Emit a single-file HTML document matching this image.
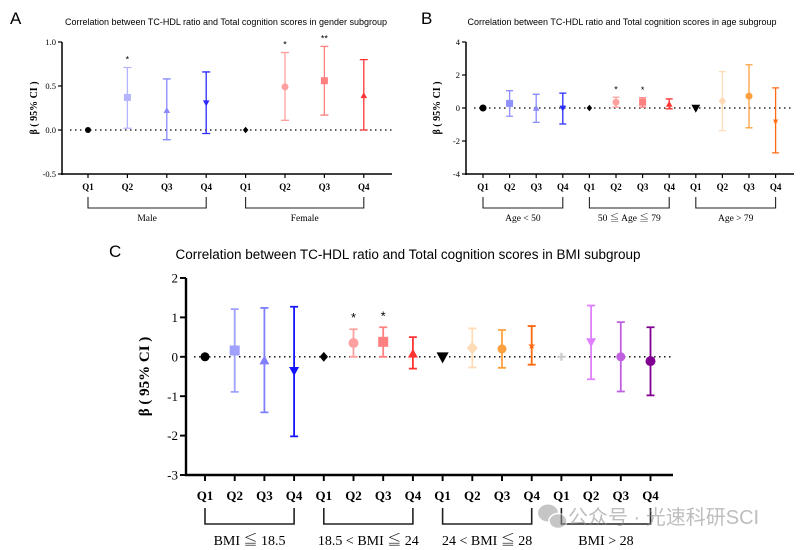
<!DOCTYPE html>
<html><head><meta charset="utf-8">
<style>
body{margin:0;background:#fff;}
svg{display:block;font-family:"Liberation Serif","Noto Serif CJK SC",serif;}
.sans{font-family:"Liberation Sans","Noto Sans CJK SC",sans-serif;}
</style></head>
<body>
<svg id="chart" width="807" height="550" viewBox="0 0 807 550" xmlns="http://www.w3.org/2000/svg">
  <text class="sans" x="10" y="24" font-size="17">A</text>
  <text class="sans" x="226" y="25" font-size="9" text-anchor="middle">Correlation between TC-HDL ratio and Total cognition scores in gender subgroup</text>
  <text class="sans" x="421" y="24" font-size="17">B</text>
  <text class="sans" x="622" y="25" font-size="9" text-anchor="middle">Correlation between TC-HDL ratio and Total cognition scores in age subgroup</text>
  <text class="sans" x="109" y="257" font-size="17">C</text>
  <text class="sans" x="408" y="259" font-size="13.5" text-anchor="middle">Correlation between TC-HDL ratio and Total cognition scores in BMI subgroup</text>
  <g id="pa"></g>
  <g id="pb"></g>
  <g id="pc"></g>
  <g opacity="0.55">
    <ellipse cx="548" cy="513" rx="10" ry="8.5" fill="#999"/>
    <ellipse cx="558" cy="521" rx="9" ry="7.5" fill="#999" stroke="#fff" stroke-width="1.5"/>
    <text class="sans" x="568" y="524" font-size="20" fill="#888">公众号 · 光速科研SCI</text>
  </g>
</svg>
<script>
// Panel A data
const aCats = ["Q1","Q2","Q3","Q4","Q1","Q2","Q3","Q4"];
const aBeta = [0,0.37,0.22,0.31,0,0.49,0.56,0.39];
const aLow  = [0,0.02,-0.11,-0.04,0,0.11,0.17,0];
const aHigh = [0,0.71,0.58,0.66,0,0.88,0.95,0.80];
const aSig  = ["","*","","","","*","**",""];
const aGroups = ["Male","Female"];
const aTicks = [-0.5,0,0.5,1.0];
const aTickLabels = ["-0.5","0.0","0.5","1.0"];
// Panel B data
const bCats = ["Q1","Q2","Q3","Q4","Q1","Q2","Q3","Q4","Q1","Q2","Q3","Q4"];
const bBeta = [0,0.28,-0.02,0.0,0,0.35,0.35,0.22,0,0.42,0.72,-0.77];
const bLow  = [0,-0.5,-0.87,-0.97,0,0.05,0.05,-0.05,0,-1.37,-1.2,-2.72];
const bHigh = [0,1.05,0.83,0.9,0,0.65,0.62,0.55,0,2.2,2.62,1.22];
const bSig  = ["","","","","","*","*","","","","",""];
const bGroups = ["Age < 50","50 ≦ Age ≦ 79","Age > 79"];
const bTicks = [-4,-2,0,2,4];
const bTickLabels = ["-4","-2","0","2","4"];
// Panel C data
const cCats = ["Q1","Q2","Q3","Q4","Q1","Q2","Q3","Q4","Q1","Q2","Q3","Q4","Q1","Q2","Q3","Q4"];
const cBeta = [0,0.16,-0.1,-0.35,0,0.35,0.38,0.07,0,0.22,0.2,0.28,0,0.38,0,-0.11];
const cLow  = [0,-0.89,-1.41,-2.02,0,0,0,-0.3,0,-0.27,-0.28,-0.2,0,-0.57,-0.88,-0.98];
const cHigh = [0,1.21,1.24,1.27,0,0.7,0.75,0.5,0,0.72,0.68,0.78,0,1.3,0.88,0.75];
const cSig  = ["","","","","","*","*","","","","","","","","",""];
const cGroups = ["BMI ≦ 18.5","18.5 < BMI ≦ 24","24 < BMI ≦ 28","BMI > 28"];
const cTicks = [-3,-2,-1,0,1,2];
const cTickLabels = ["-3","-2","-1","0","1","2"];

const NS="http://www.w3.org/2000/svg";
function mk(parent,tag,attrs,txt){const e=document.createElementNS(NS,tag);for(const k in attrs)e.setAttribute(k,attrs[k]);if(txt!==undefined)e.textContent=txt;parent.appendChild(e);return e;}

function marker(g,shape,x,y,s,col){
  let e;
  if(shape==="circle"){e=mk(g,"circle",{cx:x,cy:y,r:s,fill:col});}
  else if(shape==="square"){e=mk(g,"rect",{x:x-s,y:y-s,width:2*s,height:2*s,fill:col});}
  else if(shape==="tri"){e=mk(g,"polygon",{points:`${x},${y-s*1.2} ${x-s*1.1},${y+s*0.8} ${x+s*1.1},${y+s*0.8}`,fill:col});}
  else if(shape==="dtri"){e=mk(g,"polygon",{points:`${x},${y+s*1.2} ${x-s*1.1},${y-s*0.8} ${x+s*1.1},${y-s*0.8}`,fill:col});}
  else if(shape==="diamond"){e=mk(g,"polygon",{points:`${x},${y-s*1.3} ${x+s*1.1},${y} ${x},${y+s*1.3} ${x-s*1.1},${y}`,fill:col});}
  else if(shape==="plus"){e=mk(g,"path",{d:`M${x-s},${y}H${x+s}M${x},${y-s}V${y+s}`,stroke:col,"stroke-width":2.2,fill:"none"});}
  else if(shape==="star"){let p="";for(let i=0;i<10;i++){const r=i%2?s*0.45:s*1.1;const a=-Math.PI/2+i*Math.PI/5;p+=`${x+r*Math.cos(a)},${y+r*Math.sin(a)} `;}e=mk(g,"polygon",{points:p,fill:col});}
  
  
}

function panel(id,o){
  const g=document.getElementById(id);
  const y=v=>o.y0+(v-o.ymin)/(o.ymax-o.ymin)*(o.y1-o.y0);
  const x=i=>o.xs0+i*o.dx;
  const zl=mk(g,"line",{x1:o.ax+8,x2:o.axEnd,y1:y(0),y2:y(0),stroke:"#000","stroke-width":1.3,"stroke-dasharray":"1.5,3.5"});
  
  
  const ya=mk(g,"line",{x1:o.ax,x2:o.ax,y1:y(o.ymax),y2:o.y0+1,stroke:"#000","stroke-width":o.aw});
  
  
  const xa=mk(g,"line",{x1:o.ax-o.aw/2,x2:o.axEnd,y1:o.y0,y2:o.y0,stroke:"#000","stroke-width":o.aw});
  
  
  o.ticks.forEach((t,i)=>{
    mk(g,"line",{x1:o.ax-o.tl,x2:o.ax,y1:y(t),y2:y(t),stroke:"#000","stroke-width":o.aw*0.8});
    const tx=mk(g,"text",{x:o.ax-o.tl-2,y:y(t)+o.fs*0.35,"font-size":o.fs,"text-anchor":"end"},o.tickLabels[i]);
    
    
  });
  const yt=mk(g,"text",{x:0,y:0,"font-size":o.yfs,"font-weight":"bold","text-anchor":"middle",transform:`translate(${o.ytx},${(y(o.ymin)+y(o.ymax))/2}) rotate(-90)`},"β ( 95% CI )");
  
  
  o.cats.forEach((c,i)=>{
    const xi=x(i);
    mk(g,"line",{x1:xi,x2:xi,y1:o.y0,y2:o.y0+o.tl,stroke:"#000","stroke-width":o.aw*0.8});
    const lt=mk(g,"text",{x:xi,y:o.y0+o.qdy,"font-size":o.qfs,"font-weight":"bold","text-anchor":"middle"},c);
    
    
    const col=o.colors[i];
    if(o.high[i]!==o.low[i]){
      const eb=mk(g,"path",{d:`M${xi},${y(o.low[i])}V${y(o.high[i])}M${xi-o.cap},${y(o.low[i])}H${xi+o.cap}M${xi-o.cap},${y(o.high[i])}H${xi+o.cap}`,stroke:col,"stroke-width":o.ew,fill:"none"});
      
      
    }
    marker(g,o.shapes[i],xi,y(o.beta[i]),o.ms[i]||o.msz,col);
    if(o.sig[i]){
      const st=mk(g,"text",{x:xi,y:y(o.high[i])-o.sdy,"font-size":o.sfs,"text-anchor":"middle",class:"sans"},o.sig[i]);
      
      
    }
  });
  o.groups.forEach((gn,k)=>{
    const xa0=x(k*4),xb=x(k*4+3);
    const br=mk(g,"path",{d:`M${xa0},${o.by0}V${o.by1}H${xb}V${o.by0}`,stroke:"#222","stroke-width":o.bw,fill:"none"});
    
    
    const gl=mk(g,"text",{x:(xa0+xb)/2,y:o.gly,"font-size":o.gfs,"text-anchor":"middle"},gn);
    
    
  });
}
const K="#000";
panel("pa",{cats:aCats,beta:aBeta,low:aLow,high:aHigh,sig:aSig,groups:aGroups,ticks:aTicks,tickLabels:aTickLabels,
  ymin:-0.5,ymax:1.0,y0:174,y1:42,ax:62,axEnd:392,xs0:88,dx:39.4,fs:8.5,yfs:10,ytx:37,qfs:9,qdy:16,tl:4,aw:1.5,ew:1.3,cap:4,msz:3,sdy:5,sfs:9,
  colors:[K,"#b4b4ff","#8a8aff","#2a2aff",K,"#ffa0a0","#ff8080","#ff3434"],
  shapes:["circle","square","tri","dtri","diamond","circle","square","tri"],ms:[3,3.5,3,3,2.5,3.5,3.5,3],
  by0:197,by1:208,bw:1.1,gly:221,gfs:9.5});
panel("pb",{cats:bCats,beta:bBeta,low:bLow,high:bHigh,sig:bSig,groups:bGroups,ticks:bTicks,tickLabels:bTickLabels,
  ymin:-4,ymax:4,y0:174,y1:42,ax:466,axEnd:794,xs0:483,dx:26.6,fs:8.5,yfs:10,ytx:440,qfs:9,qdy:16,tl:4,aw:1.5,ew:1.3,cap:3.5,msz:3,sdy:5,sfs:9,
  colors:[K,"#9090ff","#8a8aff","#2a2aff",K,"#ffa0a0","#ff8080","#ff3434",K,"#ffdcb8","#ffa040","#ff6a10"],
  shapes:["circle","square","tri","dtri","diamond","circle","square","tri","dtri","diamond","circle","star"],ms:[3.5,3.5,3,3,2.5,3.5,3.5,3,4,3.5,3.5,3],
  by0:197,by1:208,bw:1.1,gly:221,gfs:9.5});
panel("pc",{cats:cCats,beta:cBeta,low:cLow,high:cHigh,sig:cSig,groups:cGroups,ticks:cTicks,tickLabels:cTickLabels,
  ymin:-3,ymax:2,y0:475,y1:278,ax:186,axEnd:673,xs0:205,dx:29.7,fs:13,yfs:15,ytx:149,qfs:13,qdy:25,tl:6,aw:2.4,ew:1.8,cap:4,msz:4.5,sdy:7,sfs:13,
  colors:[K,"#a0a0ff","#8080ff","#1414ff",K,"#ffa0a0","#ff8080","#ff3434",K,"#ffdcb8","#ffa040","#ff6a10","#cccccc","#e080ff","#c060e0","#800090"],
  shapes:["circle","square","tri","dtri","diamond","circle","square","tri","dtri","diamond","circle","star","plus","dtri","circle","circle"],ms:[4.5,5,4.5,4.5,3.8,5,5,4.5,5.5,5,4.5,3.5,4,4.5,4.5,5],
  by0:508,by1:524,bw:1.6,gly:545,gfs:14});
</script>
</body></html>
